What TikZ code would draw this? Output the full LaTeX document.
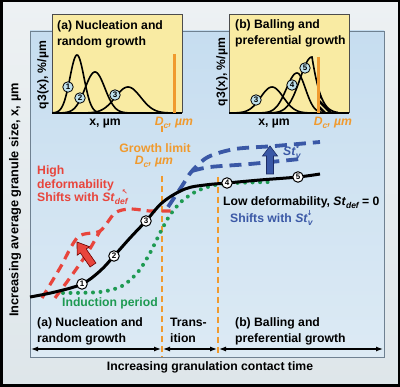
\documentclass[tikz,border=0pt]{standalone}
\usepackage{fontspec}
\setmainfont{Liberation Sans}
\newfontfamily\dejavu{DejaVu Sans}
\usetikzlibrary{arrows.meta}
\definecolor{orng}{HTML}{F09A2E}
\definecolor{rd}{HTML}{E8453C}
\definecolor{grn}{HTML}{1E9A52}
\definecolor{blu}{HTML}{3A58A6}
\definecolor{bludark}{HTML}{1C2C66}
\definecolor{yel}{HTML}{F9EBA3}
\definecolor{outtop}{HTML}{EDF1F3}
\definecolor{outbot}{HTML}{DEE6EA}
\definecolor{pantop}{HTML}{C6DDF0}
\definecolor{panbot}{HTML}{DCEAF4}
\definecolor{panedge}{HTML}{6F8191}
\definecolor{circfill}{HTML}{BFE1EC}
\newcommand{\Sts}[2]{\textit{St}\setbox0=\hbox{\fontsize{8.5}{9}\selectfont\itshape #1}\setbox2=\hbox{\fontsize{7}{8}\selectfont\dejavu #2}\lower0.45ex\box0\llap{\raise1.15ex\box2}}
\newcommand{\Dcl}{\textit{D}\lower0.45ex\hbox{\fontsize{8.5}{9}\selectfont\itshape c}\textit{, µm}}
\tikzset{
  every node/.style={font=\fontsize{12.2}{14}\selectfont\bfseries, inner sep=0pt},
  lbl/.style={anchor=base west},
  ncirc/.style={circle, draw=black, line width=0.8pt, fill=circfill, minimum size=10.5pt, font=\fontsize{8}{8}\selectfont\bfseries},
  mcirc/.style={circle, draw=black, line width=1pt, fill=white, minimum size=10.5pt, font=\fontsize{8}{8}\selectfont\bfseries},
  dist/.style={line width=1.6pt, black},
  odash/.style={orng, line width=2.6pt, dash pattern=on 6pt off 4pt},
  rdash/.style={rd, line width=3.2pt, dash pattern=on 9pt off 6pt},
  bdash/.style={blu, line width=3.8pt, dash pattern=on 12pt off 7pt},
  gdot/.style={grn, line width=4pt, line cap=round, dash pattern=on 0pt off 7.5pt},
  span/.style={line width=1.2pt, {Latex[length=7pt,width=5pt]}-{Latex[length=7pt,width=5pt]}}
}
\begin{document}
\begin{tikzpicture}[x=1pt,y=-1pt]
\useasboundingbox (0,0) rectangle (400,387);
% backgrounds
\shade[top color=outtop,bottom color=outbot] (0,0) rectangle (400,387);
\draw[line width=2.5pt] (1.25,1.25) rectangle (398.75,385.75);
\shade[top color=pantop,bottom color=panbot] (30,31) rectangle (384,357);
\draw[panedge,line width=0.8pt] (30,31) rectangle (384,357);

% axis labels
\node[rotate=90,font=\fontsize{12.8}{14}\selectfont\bfseries] (ylab) at (15,200) {Increasing average granule size, x, µm};
\node (xlab) at (210,367) {Increasing granulation contact time};

% ---------- inset (a)
\fill[yel] (52,14) rectangle (182,113);
\draw[black!70,line width=0.8pt] (52,113) -- (52,14) -- (182,14) -- (182,113);
\draw[dist] plot[domain=53:103,samples=70] (\x,{113-58*exp(-((\x-77)/10)^2)});
\draw[dist] plot[domain=58:132,samples=70] (\x,{113-41*exp(-((\x-95)/14)^2)});
\draw[dist] plot[domain=84:176,samples=70] (\x,{113-26*exp(-((\x-128)/18)^2)});
\draw[line width=1.4pt] (52,113) -- (182,113);
\draw[orng,line width=3pt] (174,54) -- (174,113);
\node[ncirc] (a1) at (68,87) {1};
\node[ncirc] (a2) at (80,98) {2};
\node[ncirc] (a3) at (115,95) {3};
\node[lbl] (at1) at (57,30) {(a) Nucleation and};
\node[lbl] (at2) at (57,46) {random growth};
\node[rotate=90] (aq) at (43,75) {q3(x), \%/µm};
\node (ax) at (105,123) {x, µm};
\node[orng] (adc) at (174,123) {\Dcl};

% ---------- inset (b)
\fill[yel] (229,14) rectangle (349,113);
\draw[black!70,line width=0.8pt] (229,113) -- (229,14) -- (349,14) -- (349,113);
\begin{scope}
\clip (318,113) -- plot[domain=318:340,samples=40] (\x,{113-56*exp(-(\x-312)/9-((\x-312)/20)^2)}) -- (340,113) -- cycle;
\foreach \s in {264,270,...,342} \draw[line width=2.6pt] (\s,70) -- ++(45,45);
\end{scope}
\draw[dist] plot[domain=230:318,samples=70] (\x,{113-26*exp(-((\x-272)/16)^2)});
\draw[dist] plot[domain=252:297,samples=50] (\x,{113-40*exp(-((\x-297)/15)^2)})
  -- plot[domain=297:334,samples=50] (\x,{113-40*exp(-((\x-297)/12)^2)});
\draw[dist] plot[domain=262:312,samples=50] (\x,{113-56*exp(-((\x-312)/17)^2)})
  -- plot[domain=312:338,samples=50] (\x,{113-56*exp(-(\x-312)/9-((\x-312)/20)^2)});
\draw[line width=1.4pt] (229,113) -- (349,113);
\draw[orng,line width=3pt] (318,57) -- (318,113);
\node[ncirc] (b3) at (256,100) {3};
\node[ncirc] (b4) at (292,85) {4};
\node[ncirc] (b5) at (305,68) {5};
\node[lbl] (bt1) at (235,29) {(b) Balling and};
\node[lbl] (bt2) at (235,45) {preferential growth};
\node[rotate=90] (bq) at (222,72) {q3(x), \%/µm};
\node (bx) at (274,123) {x, µm};
\node[orng] (bdc) at (333,123) {\Dcl};

% ---------- main plot
\draw[odash] (162,126) -- (162,133);
\draw[odash] (162,176) -- (162,357);
\draw[odash] (218,177) -- (218,357);
\node[orng] (gl1) at (155,148) {Growth limit};
\node[orng] (gl2) at (154,162) {\Dcl};

% green induction curve
\draw[gdot] plot[smooth] coordinates {(63,293) (100,292) (122,286) (138,272) (150,253) (160,233) (170,215) (182,201) (197,191) (215,185) (235,183) (270,182)};
% red high deformability curves
\draw[rdash] plot[smooth] coordinates {(42,298) (60,268) (78,237) (100,231) (115,213) (130,209) (150,211) (172,211)};
\draw[rdash] plot[smooth] coordinates {(55,298) (72,275) (88,252) (100,231)};
% blue curves
\draw[bdash] plot[smooth] coordinates {(168,207) (182,186) (192,171) (208,157) (235,149) (275,146) (320,142)};
\draw[bdash] plot[smooth] coordinates {(192,171) (210,167) (250,164) (300,159)};
% black main curve
\draw[line width=3pt] plot[smooth,tension=0.6] coordinates {(30,297) (55,292) (82,284) (100,271) (114,256) (130,238) (146,221) (163,202) (185,189) (205,185) (227,183) (260,180) (298,177) (320,174)};
\node[mcirc] (m1) at (82,284) {1};
\node[mcirc] (m2) at (114,256) {2};
\node[mcirc] (m3) at (146,221) {3};
\node[mcirc] (m4) at (227,183) {4};
\node[mcirc] (m5) at (298,177) {5};

% arrows
\filldraw[fill=rd,draw=red!40!black,line width=0.6pt] (95.9,263.0) -- (90.1,267.0) -- (80.4,253.0) -- (77.1,255.3) -- (77,242) -- (89.5,246.7) -- (86.2,249.0) -- cycle;
\filldraw[fill=blu,draw=bludark,line width=0.6pt] (266.5,174) -- (273.5,174) -- (273.5,156) -- (277.5,156) -- (270,146) -- (262.5,156) -- (266.5,156) -- cycle;

% texts in plot
\node[lbl,rd] (h1) at (37,175) {High};
\node[lbl,rd] (h2) at (37,189) {deformability};
\node[lbl,rd] (h3) at (37,202) {Shifts with \Sts{def}{↖}};
\node[lbl,blu] (stv) at (283,156) {\Sts{v}{↓}};
\node[lbl] (low) at (223,206) {Low deformability, \Sts{def}{} = 0};
\node[lbl,blu] (sv) at (230,223) {Shifts with \Sts{v}{↓}};
\node[lbl,grn] (ind) at (62,307) {Induction period};

% bottom regions
\node[lbl] (r1) at (37,327) {(a) Nucleation and};
\node[lbl] (r2) at (37,343) {random growth};
\node[lbl] (r3) at (170,327) {Trans-};
\node[lbl] (r4) at (170,343) {ition};
\node[lbl] (r5) at (235,327) {(b) Balling and};
\node[lbl] (r6) at (235,343) {preferential growth};
\coordinate (s0) at (31,349);
\coordinate (s1l) at (161,349);
\coordinate (s1r) at (163,349);
\coordinate (s2l) at (217,349);
\coordinate (s2r) at (219,349);
\coordinate (s3) at (383,349);
\draw[span] (s0) -- (s1l);
\draw[span] (s1r) -- (s2l);
\draw[span] (s2r) -- (s3);
\end{tikzpicture}
\end{document}
